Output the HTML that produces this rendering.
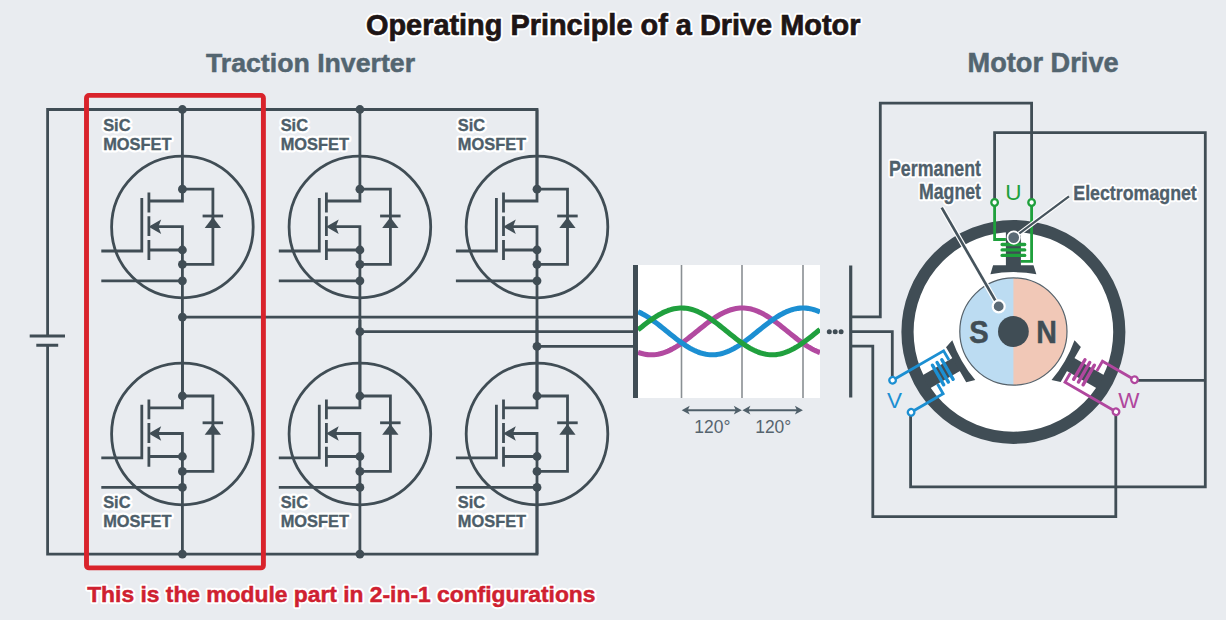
<!DOCTYPE html>
<html><head><meta charset="utf-8"><title>Operating Principle of a Drive Motor</title>
<style>html,body{margin:0;padding:0;background:#e9ecf0;width:1226px;height:620px;overflow:hidden}</style>
</head><body>
<svg width="1226" height="620" viewBox="0 0 1226 620" style="display:block">
<rect width="1226" height="620" fill="#e9ecf0"/>
<g font-family="Liberation Sans, sans-serif">
<text x="613.2" y="34.5" font-size="28.9" font-weight="bold" fill="#fff" stroke="#fff" stroke-width="4.5" stroke-linejoin="round" text-anchor="middle" >Operating Principle of a Drive Motor</text><text x="613.2" y="34.5" font-size="28.9" font-weight="bold" fill="#1e1515" stroke="#1e1515" stroke-width="0.7" text-anchor="middle" >Operating Principle of a Drive Motor</text>
<text x="310.5" y="72" font-size="26.7" font-weight="bold" fill="#536570" stroke="#536570" stroke-width="0.5" text-anchor="middle">Traction Inverter</text>
<text x="1043.1" y="72" font-size="27.2" font-weight="bold" fill="#536570" stroke="#536570" stroke-width="0.5" text-anchor="middle">Motor Drive</text>
<path d="M537,189.2V109.5H47.6V335.9M47.6,345.3V554.1H537V487.4" fill="none" stroke="#404d55" stroke-width="2.8"/>
<path d="M29.7,335.9H65M36.3,345.3H58.2" stroke="#404d55" stroke-width="3"/>
<path d="M182.4,280.8V396" stroke="#404d55" stroke-width="2.8"/>
<path d="M182.4,487.4V554.1" stroke="#404d55" stroke-width="2.8"/>
<path d="M182.4,317.1H635" stroke="#404d55" stroke-width="2.8"/>
<circle cx="182.4" cy="317.1" r="4.4" fill="#404d55"/>
<path d="M359.9,280.8V396" stroke="#404d55" stroke-width="2.8"/>
<path d="M359.9,487.4V554.1" stroke="#404d55" stroke-width="2.8"/>
<path d="M359.9,331.6H635" stroke="#404d55" stroke-width="2.8"/>
<circle cx="359.9" cy="331.6" r="4.4" fill="#404d55"/>
<path d="M537,280.8V396" stroke="#404d55" stroke-width="2.8"/>
<path d="M537,487.4V554.1" stroke="#404d55" stroke-width="2.8"/>
<path d="M537,346.4H635" stroke="#404d55" stroke-width="2.8"/>
<circle cx="537" cy="346.4" r="4.4" fill="#404d55"/>
<circle cx="182.4" cy="109.5" r="4.4" fill="#404d55"/>
<circle cx="182.4" cy="554.1" r="4.4" fill="#404d55"/>
<circle cx="359.9" cy="109.5" r="4.4" fill="#404d55"/>
<circle cx="359.9" cy="554.1" r="4.4" fill="#404d55"/>
<g transform="translate(182.4,189.2)">
<circle cx="0" cy="37.8" r="70.8" fill="none" stroke="#404d55" stroke-width="2.8"/>
<path d="M0,-79.7V11.8H-33.5" fill="none" stroke="#404d55" stroke-width="2.8"/>
<path d="M0,0H30.5V75.1H0" fill="none" stroke="#404d55" stroke-width="2.8"/>
<path d="M20.2,26.8H40.7" stroke="#404d55" stroke-width="2.8"/>
<path d="M30.45,28L38.6,38.8H22.3Z" fill="#404d55"/>
<path d="M-33.5,3.4V23.2M-33.5,27.1V46.9M-33.5,50.8V70.8" stroke="#404d55" stroke-width="2.8"/>
<path d="M-40.6,8.7V61.8H-81.1" fill="none" stroke="#404d55" stroke-width="2.8"/>
<path d="M-31,37.5H0V60.8H-33.5" fill="none" stroke="#404d55" stroke-width="2.8"/>
<path d="M-33.8,37.5L-21.2,30.2L-24,37.5L-21.2,44.8Z" fill="#404d55"/>
<path d="M-81.1,91.6H0M0,60.8V91.6" fill="none" stroke="#404d55" stroke-width="2.8"/>
<circle cx="0" cy="0" r="4.4" fill="#404d55"/>
<circle cx="0" cy="60.8" r="4.4" fill="#404d55"/>
<circle cx="0" cy="75.1" r="4.4" fill="#404d55"/>
<circle cx="0" cy="91.6" r="4.4" fill="#404d55"/>
</g>
<g transform="translate(182.4,396)">
<circle cx="0" cy="38" r="70.8" fill="none" stroke="#404d55" stroke-width="2.8"/>
<path d="M0,-76V11.8H-33.5" fill="none" stroke="#404d55" stroke-width="2.8"/>
<path d="M0,0H30.5V75.4H0" fill="none" stroke="#404d55" stroke-width="2.8"/>
<path d="M20.2,26.8H40.7" stroke="#404d55" stroke-width="2.8"/>
<path d="M30.45,28L38.6,38.8H22.3Z" fill="#404d55"/>
<path d="M-33.5,3.4V23.2M-33.5,27.1V46.9M-33.5,50.8V70.8" stroke="#404d55" stroke-width="2.8"/>
<path d="M-40.6,8.7V61.8H-81.1" fill="none" stroke="#404d55" stroke-width="2.8"/>
<path d="M-31,37.5H0V60.5H-33.5" fill="none" stroke="#404d55" stroke-width="2.8"/>
<path d="M-33.8,37.5L-21.2,30.2L-24,37.5L-21.2,44.8Z" fill="#404d55"/>
<path d="M-81.1,91.4H0M0,60.5V91.4" fill="none" stroke="#404d55" stroke-width="2.8"/>
<circle cx="0" cy="0" r="4.4" fill="#404d55"/>
<circle cx="0" cy="60.5" r="4.4" fill="#404d55"/>
<circle cx="0" cy="75.4" r="4.4" fill="#404d55"/>
<circle cx="0" cy="91.4" r="4.4" fill="#404d55"/>
</g>
<g transform="translate(359.9,189.2)">
<circle cx="0" cy="37.8" r="70.8" fill="none" stroke="#404d55" stroke-width="2.8"/>
<path d="M0,-79.7V11.8H-33.5" fill="none" stroke="#404d55" stroke-width="2.8"/>
<path d="M0,0H30.5V75.1H0" fill="none" stroke="#404d55" stroke-width="2.8"/>
<path d="M20.2,26.8H40.7" stroke="#404d55" stroke-width="2.8"/>
<path d="M30.45,28L38.6,38.8H22.3Z" fill="#404d55"/>
<path d="M-33.5,3.4V23.2M-33.5,27.1V46.9M-33.5,50.8V70.8" stroke="#404d55" stroke-width="2.8"/>
<path d="M-40.6,8.7V61.8H-81.1" fill="none" stroke="#404d55" stroke-width="2.8"/>
<path d="M-31,37.5H0V60.8H-33.5" fill="none" stroke="#404d55" stroke-width="2.8"/>
<path d="M-33.8,37.5L-21.2,30.2L-24,37.5L-21.2,44.8Z" fill="#404d55"/>
<path d="M-81.1,91.6H0M0,60.8V91.6" fill="none" stroke="#404d55" stroke-width="2.8"/>
<circle cx="0" cy="0" r="4.4" fill="#404d55"/>
<circle cx="0" cy="60.8" r="4.4" fill="#404d55"/>
<circle cx="0" cy="75.1" r="4.4" fill="#404d55"/>
<circle cx="0" cy="91.6" r="4.4" fill="#404d55"/>
</g>
<g transform="translate(359.9,396)">
<circle cx="0" cy="38" r="70.8" fill="none" stroke="#404d55" stroke-width="2.8"/>
<path d="M0,-76V11.8H-33.5" fill="none" stroke="#404d55" stroke-width="2.8"/>
<path d="M0,0H30.5V75.4H0" fill="none" stroke="#404d55" stroke-width="2.8"/>
<path d="M20.2,26.8H40.7" stroke="#404d55" stroke-width="2.8"/>
<path d="M30.45,28L38.6,38.8H22.3Z" fill="#404d55"/>
<path d="M-33.5,3.4V23.2M-33.5,27.1V46.9M-33.5,50.8V70.8" stroke="#404d55" stroke-width="2.8"/>
<path d="M-40.6,8.7V61.8H-81.1" fill="none" stroke="#404d55" stroke-width="2.8"/>
<path d="M-31,37.5H0V60.5H-33.5" fill="none" stroke="#404d55" stroke-width="2.8"/>
<path d="M-33.8,37.5L-21.2,30.2L-24,37.5L-21.2,44.8Z" fill="#404d55"/>
<path d="M-81.1,91.4H0M0,60.5V91.4" fill="none" stroke="#404d55" stroke-width="2.8"/>
<circle cx="0" cy="0" r="4.4" fill="#404d55"/>
<circle cx="0" cy="60.5" r="4.4" fill="#404d55"/>
<circle cx="0" cy="75.4" r="4.4" fill="#404d55"/>
<circle cx="0" cy="91.4" r="4.4" fill="#404d55"/>
</g>
<g transform="translate(537,189.2)">
<circle cx="0" cy="37.8" r="70.8" fill="none" stroke="#404d55" stroke-width="2.8"/>
<path d="M0,-79.7V11.8H-33.5" fill="none" stroke="#404d55" stroke-width="2.8"/>
<path d="M0,0H30.5V75.1H0" fill="none" stroke="#404d55" stroke-width="2.8"/>
<path d="M20.2,26.8H40.7" stroke="#404d55" stroke-width="2.8"/>
<path d="M30.45,28L38.6,38.8H22.3Z" fill="#404d55"/>
<path d="M-33.5,3.4V23.2M-33.5,27.1V46.9M-33.5,50.8V70.8" stroke="#404d55" stroke-width="2.8"/>
<path d="M-40.6,8.7V61.8H-81.1" fill="none" stroke="#404d55" stroke-width="2.8"/>
<path d="M-31,37.5H0V60.8H-33.5" fill="none" stroke="#404d55" stroke-width="2.8"/>
<path d="M-33.8,37.5L-21.2,30.2L-24,37.5L-21.2,44.8Z" fill="#404d55"/>
<path d="M-81.1,91.6H0M0,60.8V91.6" fill="none" stroke="#404d55" stroke-width="2.8"/>
<circle cx="0" cy="0" r="4.4" fill="#404d55"/>
<circle cx="0" cy="60.8" r="4.4" fill="#404d55"/>
<circle cx="0" cy="75.1" r="4.4" fill="#404d55"/>
<circle cx="0" cy="91.6" r="4.4" fill="#404d55"/>
</g>
<g transform="translate(537,396)">
<circle cx="0" cy="38" r="70.8" fill="none" stroke="#404d55" stroke-width="2.8"/>
<path d="M0,-76V11.8H-33.5" fill="none" stroke="#404d55" stroke-width="2.8"/>
<path d="M0,0H30.5V75.4H0" fill="none" stroke="#404d55" stroke-width="2.8"/>
<path d="M20.2,26.8H40.7" stroke="#404d55" stroke-width="2.8"/>
<path d="M30.45,28L38.6,38.8H22.3Z" fill="#404d55"/>
<path d="M-33.5,3.4V23.2M-33.5,27.1V46.9M-33.5,50.8V70.8" stroke="#404d55" stroke-width="2.8"/>
<path d="M-40.6,8.7V61.8H-81.1" fill="none" stroke="#404d55" stroke-width="2.8"/>
<path d="M-31,37.5H0V60.5H-33.5" fill="none" stroke="#404d55" stroke-width="2.8"/>
<path d="M-33.8,37.5L-21.2,30.2L-24,37.5L-21.2,44.8Z" fill="#404d55"/>
<path d="M-81.1,91.4H0M0,60.5V91.4" fill="none" stroke="#404d55" stroke-width="2.8"/>
<circle cx="0" cy="0" r="4.4" fill="#404d55"/>
<circle cx="0" cy="60.5" r="4.4" fill="#404d55"/>
<circle cx="0" cy="75.4" r="4.4" fill="#404d55"/>
<circle cx="0" cy="91.4" r="4.4" fill="#404d55"/>
</g>
<text x="103.2" y="130.6" font-size="16.4" font-weight="bold" fill="#fff" stroke="#fff" stroke-width="5" stroke-linejoin="round" text-anchor="start" >SiC</text><text x="103.2" y="130.6" font-size="16.4" font-weight="bold" fill="#4d5e69" stroke="#4d5e69" stroke-width="0.35" text-anchor="start" >SiC</text>
<text x="103.2" y="149.5" font-size="16.4" font-weight="bold" fill="#fff" stroke="#fff" stroke-width="5" stroke-linejoin="round" text-anchor="start" >MOSFET</text><text x="103.2" y="149.5" font-size="16.4" font-weight="bold" fill="#4d5e69" stroke="#4d5e69" stroke-width="0.35" text-anchor="start" >MOSFET</text>
<text x="103.2" y="508.4" font-size="16.4" font-weight="bold" fill="#fff" stroke="#fff" stroke-width="5" stroke-linejoin="round" text-anchor="start" >SiC</text><text x="103.2" y="508.4" font-size="16.4" font-weight="bold" fill="#4d5e69" stroke="#4d5e69" stroke-width="0.35" text-anchor="start" >SiC</text>
<text x="103.2" y="527.1" font-size="16.4" font-weight="bold" fill="#fff" stroke="#fff" stroke-width="5" stroke-linejoin="round" text-anchor="start" >MOSFET</text><text x="103.2" y="527.1" font-size="16.4" font-weight="bold" fill="#4d5e69" stroke="#4d5e69" stroke-width="0.35" text-anchor="start" >MOSFET</text>
<text x="280.7" y="130.6" font-size="16.4" font-weight="bold" fill="#fff" stroke="#fff" stroke-width="5" stroke-linejoin="round" text-anchor="start" >SiC</text><text x="280.7" y="130.6" font-size="16.4" font-weight="bold" fill="#4d5e69" stroke="#4d5e69" stroke-width="0.35" text-anchor="start" >SiC</text>
<text x="280.7" y="149.5" font-size="16.4" font-weight="bold" fill="#fff" stroke="#fff" stroke-width="5" stroke-linejoin="round" text-anchor="start" >MOSFET</text><text x="280.7" y="149.5" font-size="16.4" font-weight="bold" fill="#4d5e69" stroke="#4d5e69" stroke-width="0.35" text-anchor="start" >MOSFET</text>
<text x="280.7" y="508.4" font-size="16.4" font-weight="bold" fill="#fff" stroke="#fff" stroke-width="5" stroke-linejoin="round" text-anchor="start" >SiC</text><text x="280.7" y="508.4" font-size="16.4" font-weight="bold" fill="#4d5e69" stroke="#4d5e69" stroke-width="0.35" text-anchor="start" >SiC</text>
<text x="280.7" y="527.1" font-size="16.4" font-weight="bold" fill="#fff" stroke="#fff" stroke-width="5" stroke-linejoin="round" text-anchor="start" >MOSFET</text><text x="280.7" y="527.1" font-size="16.4" font-weight="bold" fill="#4d5e69" stroke="#4d5e69" stroke-width="0.35" text-anchor="start" >MOSFET</text>
<text x="457.8" y="130.6" font-size="16.4" font-weight="bold" fill="#fff" stroke="#fff" stroke-width="5" stroke-linejoin="round" text-anchor="start" >SiC</text><text x="457.8" y="130.6" font-size="16.4" font-weight="bold" fill="#4d5e69" stroke="#4d5e69" stroke-width="0.35" text-anchor="start" >SiC</text>
<text x="457.8" y="149.5" font-size="16.4" font-weight="bold" fill="#fff" stroke="#fff" stroke-width="5" stroke-linejoin="round" text-anchor="start" >MOSFET</text><text x="457.8" y="149.5" font-size="16.4" font-weight="bold" fill="#4d5e69" stroke="#4d5e69" stroke-width="0.35" text-anchor="start" >MOSFET</text>
<text x="457.8" y="508.4" font-size="16.4" font-weight="bold" fill="#fff" stroke="#fff" stroke-width="5" stroke-linejoin="round" text-anchor="start" >SiC</text><text x="457.8" y="508.4" font-size="16.4" font-weight="bold" fill="#4d5e69" stroke="#4d5e69" stroke-width="0.35" text-anchor="start" >SiC</text>
<text x="457.8" y="527.1" font-size="16.4" font-weight="bold" fill="#fff" stroke="#fff" stroke-width="5" stroke-linejoin="round" text-anchor="start" >MOSFET</text><text x="457.8" y="527.1" font-size="16.4" font-weight="bold" fill="#4d5e69" stroke="#4d5e69" stroke-width="0.35" text-anchor="start" >MOSFET</text>
<rect x="86.5" y="95.4" width="176.9" height="472.5" rx="2.5" fill="none" stroke="#d9232b" stroke-width="4.9"/>
<text x="87.2" y="601.8" font-size="22.82" font-weight="bold" fill="#fff" stroke="#fff" stroke-width="4.5" stroke-linejoin="round" text-anchor="start" >This is the module part in 2-in-1 configurations</text><text x="87.2" y="601.8" font-size="22.82" font-weight="bold" fill="#cf2130" stroke="#cf2130" stroke-width="0.5" text-anchor="start" >This is the module part in 2-in-1 configurations</text>
<rect x="636" y="265" width="184" height="133" fill="#fff"/>
<path d="M681.5,265V398" stroke="#8a8f93" stroke-width="1.6"/>
<path d="M742,265V398" stroke="#8a8f93" stroke-width="1.6"/>
<path d="M803,265V398" stroke="#8a8f93" stroke-width="1.6"/>
<clipPath id="wc"><rect x="638" y="265" width="182" height="133"/></clipPath>
<g clip-path="url(#wc)">
<polyline points="638,352.31 640,352.99 642,353.56 644,354.03 646,354.38 648,354.63 650,354.77 652,354.8 654,354.71 656,354.51 658,354.2 660,353.78 662,353.26 664,352.63 666,351.89 668,351.06 670,350.14 672,349.12 674,348.02 676,346.85 678,345.59 680,344.27 682,342.89 684,341.45 686,339.97 688,338.44 690,336.88 692,335.29 694,333.68 696,332.07 698,330.45 700,328.83 702,327.23 704,325.65 706,324.09 708,322.57 710,321.09 712,319.66 714,318.29 716,316.98 718,315.74 720,314.58 722,313.49 724,312.49 726,311.58 728,310.77 730,310.06 732,309.44 734,308.94 736,308.54 738,308.25 740,308.07 742,308 744,308.05 746,308.2 748,308.47 750,308.85 752,309.33 754,309.93 756,310.62 758,311.41 760,312.3 762,313.29 764,314.35 766,315.5 768,316.73 770,318.03 772,319.39 774,320.8 776,322.27 778,323.78 780,325.33 782,326.91 784,328.51 786,330.12 788,331.74 790,333.36 792,334.97 794,336.56 796,338.13 798,339.66 800,341.16 802,342.61 804,344 806,345.33 808,346.6 810,347.8 812,348.91 814,349.94 816,350.89 818,351.74 820,352.49" fill="none" stroke="#b24aa0" stroke-width="5.1" stroke-linejoin="round"/>
<polyline points="638,311.71 640,312.64 642,313.65 644,314.75 646,315.92 648,317.18 650,318.49 652,319.88 654,321.31 656,322.8 658,324.32 660,325.88 662,327.47 664,329.07 666,330.69 668,332.31 670,333.93 672,335.53 674,337.11 676,338.67 678,340.19 680,341.67 682,343.1 684,344.47 686,345.79 688,347.03 690,348.19 692,349.28 694,350.28 696,351.19 698,352.01 700,352.73 702,353.34 704,353.85 706,354.25 708,354.55 710,354.73 712,354.8 714,354.76 716,354.6 718,354.34 720,353.96 722,353.48 724,352.89 726,352.2 728,351.41 730,350.52 732,349.54 734,348.47 736,347.33 738,346.1 740,344.81 742,343.45 744,342.03 746,340.56 748,339.05 750,337.51 752,335.93 754,334.33 756,332.72 758,331.1 760,329.48 762,327.87 764,326.28 766,324.71 768,323.18 770,321.68 772,320.23 774,318.83 776,317.5 778,316.23 780,315.03 782,313.92 784,312.88 786,311.94 788,311.08 790,310.33 792,309.68 794,309.13 796,308.68 798,308.35 800,308.13 802,308.01 804,308.01 806,308.13 808,308.35 810,308.68 812,309.13 814,309.68 816,310.33 818,311.08 820,311.94" fill="none" stroke="#1c8fd2" stroke-width="5.1" stroke-linejoin="round"/>
<polyline points="638,329.88 640,328.27 642,326.67 644,325.1 646,323.56 648,322.05 650,320.59 652,319.18 654,317.83 656,316.54 658,315.33 660,314.19 662,313.13 664,312.16 666,311.29 668,310.51 670,309.83 672,309.25 674,308.78 676,308.42 678,308.17 680,308.03 682,308 684,308.09 686,308.28 688,308.59 690,309.01 692,309.53 694,310.16 696,310.89 698,311.71 700,312.64 702,313.65 704,314.75 706,315.92 708,317.18 710,318.49 712,319.88 714,321.31 716,322.8 718,324.32 720,325.88 722,327.47 724,329.07 726,330.69 728,332.31 730,333.93 732,335.53 734,337.11 736,338.67 738,340.19 740,341.67 742,343.1 744,344.47 746,345.79 748,347.03 750,348.19 752,349.28 754,350.28 756,351.19 758,352.01 760,352.73 762,353.34 764,353.85 766,354.25 768,354.55 770,354.73 772,354.8 774,354.76 776,354.6 778,354.34 780,353.96 782,353.48 784,352.89 786,352.2 788,351.41 790,350.52 792,349.54 794,348.47 796,347.33 798,346.1 800,344.81 802,343.45 804,342.03 806,340.56 808,339.05 810,337.51 812,335.93 814,334.33 816,332.72 818,331.1 820,329.48" fill="none" stroke="#20a03e" stroke-width="5.1" stroke-linejoin="round"/>
</g>
<path d="M635.5,265V398" stroke="#404d55" stroke-width="5"/>
<path d="M850.7,265.5V397.5" stroke="#404d55" stroke-width="3.2"/>
<circle cx="829.3" cy="331.7" r="2.5" fill="#404d55"/>
<circle cx="835.2" cy="331.7" r="2.5" fill="#404d55"/>
<circle cx="841.1" cy="331.7" r="2.5" fill="#404d55"/>
<path d="M686.7,410.2H736.8" stroke="#4f5f69" stroke-width="2"/>
<path d="M681.7,410.2L689.7,405.8L687.7,410.2L689.7,414.6Z" fill="#4f5f69"/>
<path d="M741.8,410.2L733.8,405.8L735.8,410.2L733.8,414.6Z" fill="#4f5f69"/>
<text x="712.35" y="432.6" font-size="18" fill="#55646e" text-anchor="middle" transform="translate(712.35,0) scale(0.97,1) translate(-712.35,0)">120°</text>
<path d="M747.4,410.2H797.9" stroke="#4f5f69" stroke-width="2"/>
<path d="M742.4,410.2L750.4,405.8L748.4,410.2L750.4,414.6Z" fill="#4f5f69"/>
<path d="M802.9,410.2L794.9,405.8L796.9,410.2L794.9,414.6Z" fill="#4f5f69"/>
<text x="773.25" y="432.6" font-size="18" fill="#55646e" text-anchor="middle" transform="translate(773.25,0) scale(0.97,1) translate(-773.25,0)">120°</text>
<path d="M850.7,316.9H880.3V103.2H1031.6V202.5" fill="none" stroke="#404d55" stroke-width="2.8"/>
<path d="M850.7,331.6H892.3V380" fill="none" stroke="#404d55" stroke-width="2.8"/>
<path d="M850.7,346.1H872.8V516.6H1115.8V412" fill="none" stroke="#404d55" stroke-width="2.8"/>
<path d="M994.6,202.5V132.6H1205.3V486.8H910.6V412" fill="none" stroke="#404d55" stroke-width="2.8"/>
<path d="M1134.4,380.3H1205.3" fill="none" stroke="#404d55" stroke-width="2.8"/>
<circle cx="1013.4" cy="331.9" r="105.9" fill="#fff" stroke="#404d55" stroke-width="12.2"/>
<g transform="translate(1013.4,331.5) rotate(0)">
<rect x="-7.5" y="-101" width="15" height="36" fill="#404d55"/>
<path d="M-20.3,-66.2H20.1L23,-57.3Q0,-61.5 -23,-57.3Z" fill="#404d55"/>
<path d="M-18.8,-129V-92H-7.5M18.2,-129V-70.1H7.5" fill="none" stroke="#1fa03c" stroke-width="2.8"/>
<path d="M-11.3,-87H11.3M-11.3,-81.6H11.3M-11.3,-76.1H11.3" stroke="#1fa03c" stroke-width="3.4" stroke-linecap="round"/>
<circle cx="-18.8" cy="-129" r="3.3" fill="#fff" stroke="#1fa03c" stroke-width="2.3"/>
<circle cx="18.2" cy="-129" r="3.3" fill="#fff" stroke="#1fa03c" stroke-width="2.3"/>
</g>
<g transform="translate(1013.4,331.5) rotate(-120)">
<rect x="-7.5" y="-101" width="15" height="36" fill="#404d55"/>
<path d="M-20.3,-66.2H20.1L23,-57.3Q0,-61.5 -23,-57.3Z" fill="#404d55"/>
<path d="M-18.8,-129V-92H-7.5M18.2,-129V-70.1H7.5" fill="none" stroke="#1c8fd2" stroke-width="2.8"/>
<path d="M-11.3,-87H11.3M-11.3,-81.6H11.3M-11.3,-76.1H11.3" stroke="#1c8fd2" stroke-width="3.4" stroke-linecap="round"/>
<circle cx="-18.8" cy="-129" r="3.3" fill="#fff" stroke="#1c8fd2" stroke-width="2.3"/>
<circle cx="18.2" cy="-129" r="3.3" fill="#fff" stroke="#1c8fd2" stroke-width="2.3"/>
</g>
<g transform="translate(1013.4,331.5) rotate(120)">
<rect x="-7.5" y="-101" width="15" height="36" fill="#404d55"/>
<path d="M-20.3,-66.2H20.1L23,-57.3Q0,-61.5 -23,-57.3Z" fill="#404d55"/>
<path d="M-18.8,-129V-92H-7.5M18.2,-129V-70.1H7.5" fill="none" stroke="#b0479e" stroke-width="2.8"/>
<path d="M-11.3,-87H11.3M-11.3,-81.6H11.3M-11.3,-76.1H11.3" stroke="#b0479e" stroke-width="3.4" stroke-linecap="round"/>
<circle cx="-18.8" cy="-129" r="3.3" fill="#fff" stroke="#b0479e" stroke-width="2.3"/>
<circle cx="18.2" cy="-129" r="3.3" fill="#fff" stroke="#b0479e" stroke-width="2.3"/>
</g>
<clipPath id="rl"><rect x="900" y="250" width="113.4" height="170"/></clipPath>
<circle cx="1013.4" cy="331.5" r="53.6" fill="#f1c8b7"/>
<circle cx="1013.4" cy="331.5" r="53.6" fill="#bcdcf2" clip-path="url(#rl)"/>
<circle cx="1013.4" cy="331.5" r="53.6" fill="none" stroke="#55626b" stroke-width="1.2"/>
<circle cx="1013.4" cy="331.5" r="15.4" fill="#404d55"/>
<text x="979" y="343.2" font-size="31" font-weight="bold" fill="#404d55" stroke="#404d55" stroke-width="0.5" text-anchor="middle" transform="translate(979,0) scale(0.94,1) translate(-979,0)">S</text>
<text x="1046.5" y="343.2" font-size="31" font-weight="bold" fill="#404d55" stroke="#404d55" stroke-width="0.5" text-anchor="middle" transform="translate(1046.5,0) scale(0.92,1) translate(-1046.5,0)">N</text>
<text x="1013.3" y="200.3" font-size="22.5" fill="#1fa03c" text-anchor="middle">U</text>
<text x="894.6" y="407.6" font-size="22.5" fill="#1c8fd2" text-anchor="middle">V</text>
<text x="1128.9" y="407.6" font-size="22.5" fill="#b0479e" text-anchor="middle">W</text>
<path d="M941.7,207.6L998.7,306.4" stroke="#fff" stroke-width="5"/>
<path d="M941.7,207.6L998.7,306.4" stroke="#46545d" stroke-width="2.7"/>
<circle cx="998.7" cy="306.4" r="6" fill="#5b6a75" stroke="#fff" stroke-width="2.2"/>
<path d="M1069,196.3L1013.7,237.6" stroke="#fff" stroke-width="4.4"/>
<path d="M1069,196.3L1013.7,237.6" stroke="#46545d" stroke-width="2.3"/>
<circle cx="1013.7" cy="237.6" r="6.2" fill="#5b6a75" stroke="#fff" stroke-width="1.7"/>
<text x="981" y="175.7" font-size="21.6" font-weight="bold" fill="#fff" stroke="#fff" stroke-width="4.5" stroke-linejoin="round" text-anchor="end" textLength="92" lengthAdjust="spacingAndGlyphs">Permanent</text><text x="981" y="175.7" font-size="21.6" font-weight="bold" fill="#4f606b" stroke="#4f606b" stroke-width="0.35" text-anchor="end" textLength="92" lengthAdjust="spacingAndGlyphs">Permanent</text>
<text x="981" y="199.4" font-size="21.6" font-weight="bold" fill="#fff" stroke="#fff" stroke-width="4.5" stroke-linejoin="round" text-anchor="end" textLength="62" lengthAdjust="spacingAndGlyphs">Magnet</text><text x="981" y="199.4" font-size="21.6" font-weight="bold" fill="#4f606b" stroke="#4f606b" stroke-width="0.35" text-anchor="end" textLength="62" lengthAdjust="spacingAndGlyphs">Magnet</text>
<text x="1073.3" y="199.6" font-size="21" font-weight="bold" fill="#fff" stroke="#fff" stroke-width="4.5" stroke-linejoin="round" text-anchor="start" textLength="123.5" lengthAdjust="spacingAndGlyphs">Electromagnet</text><text x="1073.3" y="199.6" font-size="21" font-weight="bold" fill="#4f606b" stroke="#4f606b" stroke-width="0.35" text-anchor="start" textLength="123.5" lengthAdjust="spacingAndGlyphs">Electromagnet</text>
</g></svg>
</body></html>
